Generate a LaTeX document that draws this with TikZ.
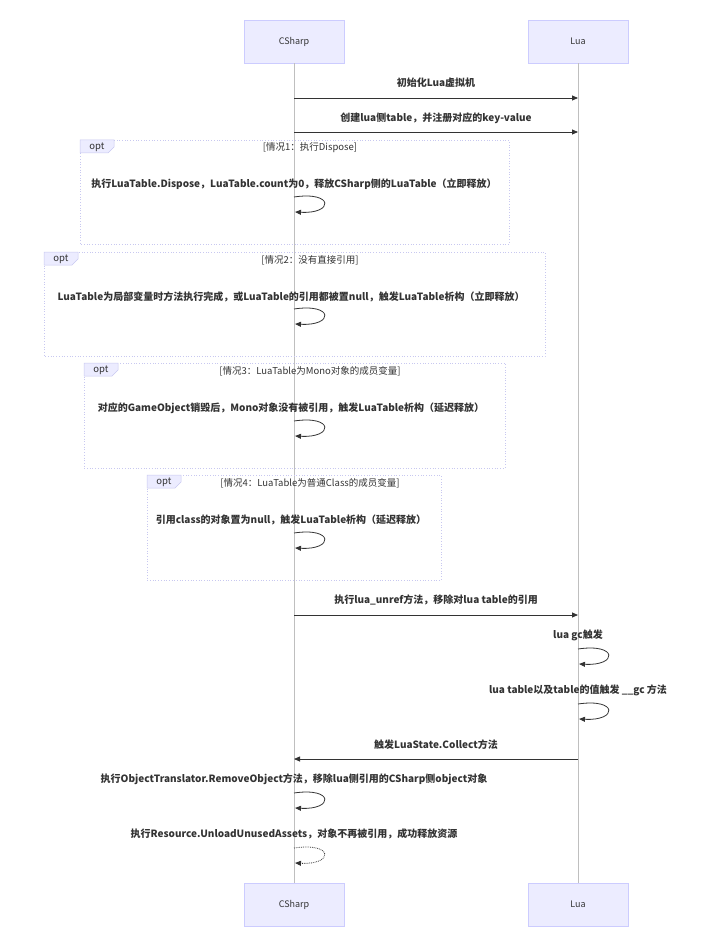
\documentclass[tikz,border=0pt]{standalone}
\usepackage{fontspec}
\setmainfont{Noto Sans CJK SC}
\usetikzlibrary{arrows.meta}
\definecolor{actfill}{HTML}{ECECFF}
\definecolor{actline}{HTML}{CCCCFF}
\definecolor{optline}{HTML}{C8C8F0}
\definecolor{txt}{HTML}{333333}
\tikzset{
 actor/.style={draw=actline,fill=actfill,minimum width=100pt,minimum height=43pt,font=\fontsize{9}{10}\selectfont,text=txt},
 life/.style={draw=black!25,line width=0.6pt},
 msg/.style={draw=txt,line width=0.8pt,-{Triangle[length=6pt,width=5pt]}},
 mtext/.style={font=\fontsize{10}{11}\selectfont\bfseries,text=txt},
 ctext/.style={font=\fontsize{9.5}{10}\selectfont,text=txt},
 optbox/.style={draw=optline,dotted,line width=0.7pt},
 tab/.style={fill=actfill,draw=optline,line width=0.5pt}
}
\newcommand{\selfloop}[3][]{\draw[msg,#1] (#2,#3) .. controls (#2+40,#3-6) and (#2+40,#3+17) .. (#2+1,#3+15);}
\newcommand{\optframe}[5]{% x1,y1,x2,y2,condition
 \draw[optbox] (#1,#2) rectangle (#3,#4);
 \draw[tab] (#1,#2) -- (#1+34,#2) -- (#1+34,#2+7) -- (#1+28,#2+13) -- (#1,#2+13) -- cycle;
 \node[ctext] at (#1+17,#2+7) {opt};
 \node[ctext] at (310,#2+8) {#5};}
\begin{document}
\begin{tikzpicture}[x=1pt,y=-1pt]
\useasboundingbox (0,0) rectangle (722,944);
\node[actor] (c1) at (294,41.5) {CSharp};
\node[actor] (l1) at (578,41.5) {Lua};
\node[actor] (c2) at (294,904.5) {CSharp};
\node[actor] (l2) at (578,904.5) {Lua};
\draw[life] (c1) -- (c2);
\draw[life] (l1) -- (l2);

\optframe{80}{140}{509}{244}{[情况1：执行Dispose]}
\optframe{44}{252}{545}{356}{[情况2：没有直接引用]}
\optframe{84}{363}{505}{468}{[情况3：LuaTable为Mono对象的成员变量]}
\optframe{147}{475}{441}{580}{[情况4：LuaTable为普通Class的成员变量]}

\node[mtext] at (436,83) {初始化Lua虚拟机};
\draw[msg] (294,98) -- (578,98);
\node[mtext] at (436,118) {创建lua侧table，并注册对应的key-value};
\draw[msg] (294,132) -- (578,132);

\node[mtext] at (294,184) {执行LuaTable.Dispose，LuaTable.count为0，释放CSharp侧的LuaTable（立即释放）};
\selfloop{294}{197}
\node[mtext] at (291,297) {LuaTable为局部变量时方法执行完成，或LuaTable的引用都被置null，触发LuaTable析构（立即释放）};
\selfloop{294}{309}
\node[mtext] at (291,408) {对应的GameObject销毁后，Mono对象没有被引用，触发LuaTable析构（延迟释放）};
\selfloop{294}{421}
\node[mtext] at (291,520) {引用class的对象置为null，触发LuaTable析构（延迟释放）};
\selfloop{294}{533}

\node[mtext] at (436,600) {执行lua\_unref方法，移除对lua table的引用};
\draw[msg] (294,615) -- (578,615);
\node[mtext] at (578,635) {lua gc触发};
\selfloop{578}{649}
\node[mtext] at (578,690) {lua table以及table的值触发 \_\_gc 方法};
\selfloop{578}{704}
\node[mtext] at (436,745) {触发LuaState.Collect方法};
\draw[msg] (578,759) -- (294,759);
\node[mtext] at (294,779) {执行ObjectTranslator.RemoveObject方法，移除lua侧引用的CSharp侧object对象};
\selfloop{294}{793}
\node[mtext] at (294,834) {执行Resource.UnloadUnusedAssets，对象不再被引用，成功释放资源};
\selfloop[densely dotted]{294}{848}
\end{tikzpicture}
\end{document}
